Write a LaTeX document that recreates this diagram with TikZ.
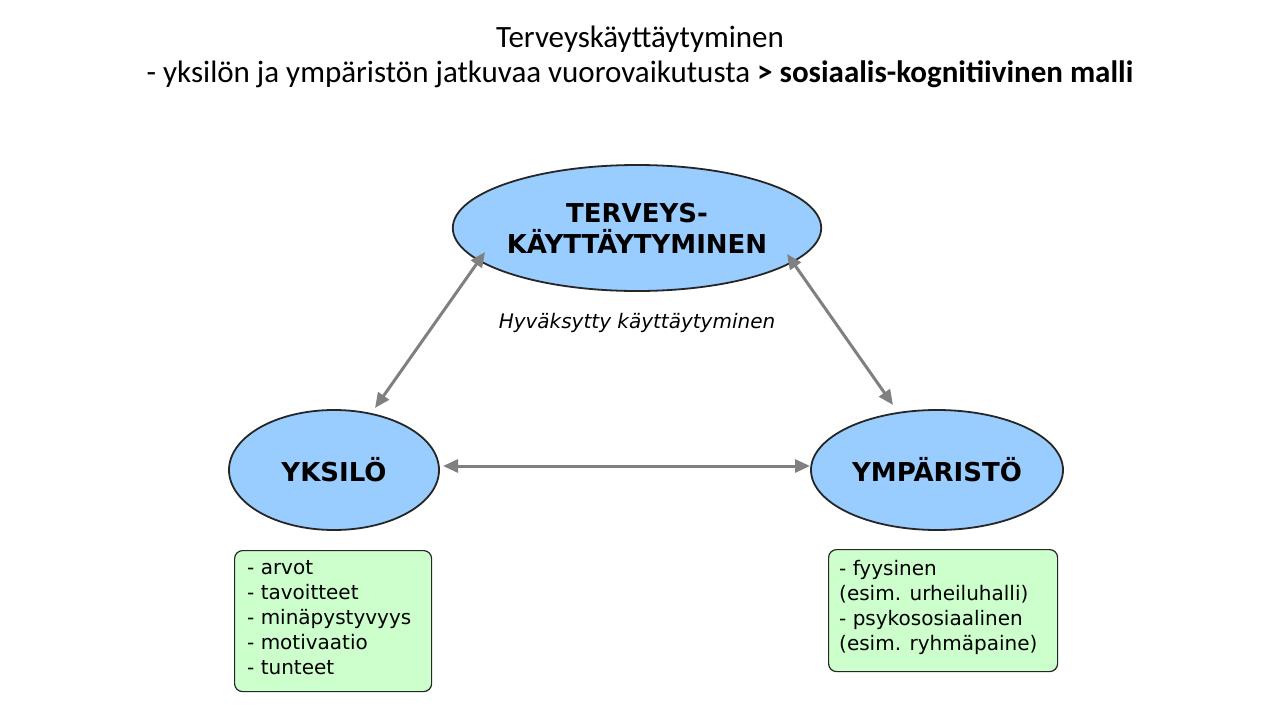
\documentclass[tikz,border=0pt]{standalone}
\usepackage{fontspec}
\setmainfont{Carlito}
\newfontfamily\verd{DejaVu Sans}
\usetikzlibrary{shapes.geometric,arrows.meta}

\begin{document}
\begin{tikzpicture}[x=1pt,y=-1pt,
    main node/.style={ellipse,draw=black!85,line width=1.8pt,fill={rgb,255:red,153;green,204;blue,255},
                      font=\verd\fontsize{26}{31}\selectfont\bfseries,align=center,inner sep=0pt},
    list box/.style={draw=black!85,line width=1.2pt,rounded corners=8pt,fill={rgb,255:red,204;green,255;blue,204},
                     anchor=north west,inner sep=0pt},
    list text/.style={anchor=north west,align=left,inner sep=0pt,font=\verd\fontsize{20}{25}\selectfont},
    link/.style={{Triangle[length=15pt,width=13pt]}-{Triangle[length=15pt,width=13pt]},draw=black!50,line width=3pt}]

  \useasboundingbox[fill=white] (0,0) rectangle (1280,720);

  \node (title) at (640,57) [align=center,font=\fontsize{31}{35}\selectfont]
    {Terveyskäyttäytyminen\\- yksilön ja ympäristön jatkuvaa vuorovaikutusta \textbf{> sosiaalis-kognitiivinen malli}};

  \node[main node,minimum width=334pt,minimum height=126pt] (0) at (637,228) {TERVEYS-\\KÄYTTÄYTYMINEN};
  \node[main node,minimum width=210pt,minimum height=120pt] (1) at (334,470) {YKSILÖ};
  \node[main node,minimum width=252pt,minimum height=120pt] (2) at (937,470) {YMPÄRISTÖ};

  \node (hyv) at (637,323) [font=\verd\fontsize{20}{24}\selectfont\itshape] {Hyväksytty käyttäytyminen};

  \draw[link] ([shift={(-152,24)}]0.center) -- ([shift={(41,-62)}]1.center);
  \draw[link] ([shift={(150,26)}]0.center) -- ([shift={(-44,-65)}]2.center);
  \draw[link] ([shift={(109,-4)}]1.center) -- ([shift={(-127,-4)}]2.center);

  \node[list box,minimum width=197pt,minimum height=141pt] (3) at (234,550) {};
  \node[list text] at (247,560) {- arvot\\- tavoitteet\\- minäpystyvyys\\- motivaatio\\- tunteet};

  \node[list box,minimum width=229pt,minimum height=122pt] (4) at (828,549) {};
  \node[list text] at (839,560) {- fyysinen\\(esim. urheiluhalli)\\- psykososiaalinen\\(esim. ryhmäpaine)};
\end{tikzpicture}
\end{document}
